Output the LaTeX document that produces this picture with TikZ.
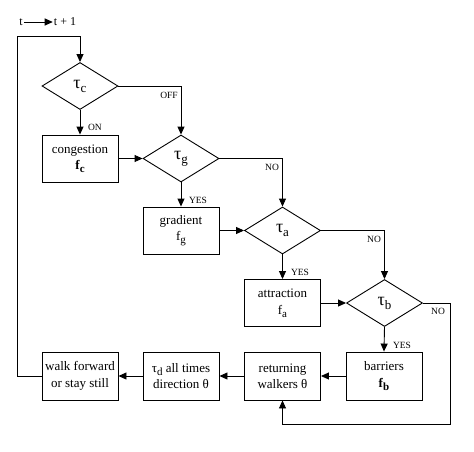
\documentclass[tikz,border=0pt]{standalone}
\usepackage{fontspec}
\setmainfont{Liberation Serif}
\usetikzlibrary{shapes.geometric,arrows.meta}
\newcommand\lowsub[3]{\raisebox{-#3}{\fontsize{#2}{#2}\selectfont #1}}
\tikzset{
  boxnode/.style={draw,line width=0.9pt,rectangle,minimum width=76pt,minimum height=47pt,inner sep=0pt,align=center,font=\fontsize{13}{16.5}\selectfont},
  decnode/.style={draw,line width=0.9pt,diamond,minimum width=76pt,minimum height=47pt,inner sep=0pt,font=\fontsize{18}{18}\selectfont},
  conn/.style={line width=0.9pt,-{Triangle[length=8pt,width=7pt]}},
  lbl/.style={font=\fontsize{9.5}{10}\selectfont,inner sep=1pt}
}
\begin{document}
\begin{tikzpicture}[x=1pt,y=-1pt]
\useasboundingbox (0,0) rectangle (474,451);
% decisions
\node[decnode] (tc) at (80,86) {τ\lowsub{c}{13}{4pt}};
\node[decnode] (tg) at (181,158.5) {τ\lowsub{g}{13}{4pt}};
\node[decnode] (ta) at (282.5,230.5) {τ\lowsub{a}{13}{4pt}};
\node[decnode] (tb) at (384.5,303) {τ\lowsub{b}{13}{4pt}};
% boxes
\node[boxnode] (cong) at (80,158.5) {congestion\\\textbf{f}\lowsub{\textbf{c}}{11}{3pt}};
\node[boxnode] (grad) at (181,230.5) {gradient\\f\lowsub{g}{11}{3pt}};
\node[boxnode] (attr) at (282.5,303) {attraction\\f\lowsub{a}{11}{3pt}};
\node[boxnode,minimum height=48pt] (barr) at (384,376) {barriers\\\textbf{f}\lowsub{\textbf{b}}{11}{3pt}};
\node[boxnode,minimum height=48pt] (ret) at (282.5,376) {returning\\walkers θ};
\node[boxnode,minimum height=48pt] (tdd) at (181,376) {τ\lowsub{d}{11}{3pt} all times\\direction θ};
\node[boxnode,minimum height=48pt] (walk) at (80,376) {walk forward\\or stay still};
% time step
\node[font=\fontsize{12}{12}\selectfont,inner sep=1pt] (t0) at (21,22) {t};
\node[font=\fontsize{12}{12}\selectfont,inner sep=1pt] (t1) at (65,22) {t + 1};
\draw[conn] (t0) -- (t1);
% coordinates
\coordinate (c1) at (450,424);
\coordinate (c2) at (17,36);
% connectors
\draw[conn] (tc.east) -| (tg.north);
\node[lbl] (off) at (169,95) {OFF};
\draw[conn] (tc.south) -- (cong.north);
\node[lbl] (on) at (95,127) {ON};
\draw[conn] (cong.east) -- (tg.west);
\draw[conn] (tg.east) -| (ta.north);
\node[lbl] (no1) at (272,167) {NO};
\draw[conn] (tg.south) -- (grad.north);
\node[lbl] (yes1) at (198,200) {YES};
\draw[conn] (grad.east) -- (ta.west);
\draw[conn] (ta.east) -| (tb.north);
\node[lbl] (no2) at (374,239) {NO};
\draw[conn] (ta.south) -- (attr.north);
\node[lbl] (yes2) at (300,272) {YES};
\draw[conn] (attr.east) -- (tb.west);
\draw[conn] (tb.east) -| (c1) -| (ret.south);
\node[lbl] (no3) at (438,311) {NO};
\draw[conn] (tb.south) -- (barr.north);
\node[lbl] (yes3) at (402,345) {YES};
\draw[conn] (barr.west) -- (ret.east);
\draw[conn] (ret.west) -- (tdd.east);
\draw[conn] (tdd.west) -- (walk.east);
\draw[conn] (walk.west) -| (c2) -| (tc.north);
\end{tikzpicture}
\end{document}
